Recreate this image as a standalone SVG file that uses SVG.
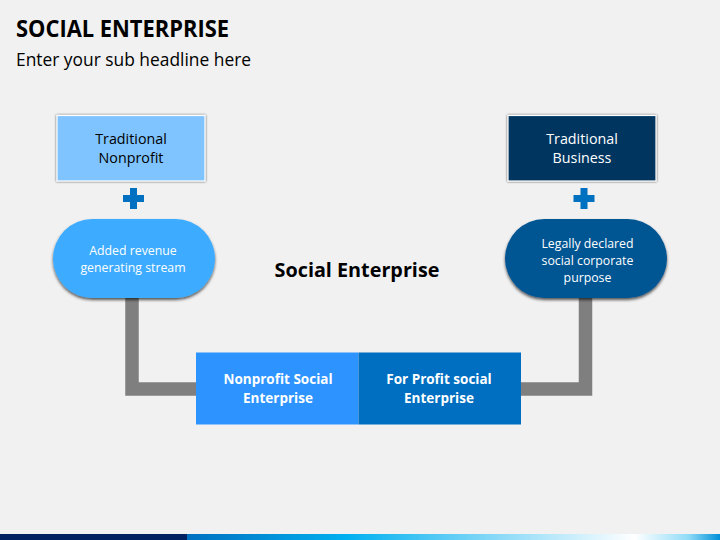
<svg xmlns="http://www.w3.org/2000/svg" width="720" height="540" viewBox="0 0 720 540">
<style>
text{font-family:"Open Sans","Noto Sans","Liberation Sans",sans-serif;text-anchor:middle}
.h{text-anchor:start}
.b{font-weight:700;fill:#fff;font-size:13.500px}
.w{fill:#fff;font-size:12.300px}
.t{font-size:14.300px}
.box{stroke:#fff;stroke-width:1.200;filter:url(#s)}
.pill{filter:url(#s2)}
</style>
<defs>
<filter id="s" x="-10%" y="-10%" width="120%" height="120%"><feDropShadow dx="0" dy="0" stdDeviation="1.300" flood-color="#000" flood-opacity=".8"/></filter>
<filter id="s2" x="-10%" y="-10%" width="120%" height="120%"><feDropShadow dx="0" dy="2" stdDeviation="1.600" flood-color="#000" flood-opacity=".65"/></filter>
<linearGradient id="g" x1="0" x2="1" y1="0" y2="0">
<stop offset="0" stop-color="#0070c0"/><stop offset=".3" stop-color="#00b0f0"/><stop offset=".6" stop-color="#92dcf8"/><stop offset=".84" stop-color="#fff"/><stop offset=".94" stop-color="#92dcf8"/><stop offset="1" stop-color="#0090d8"/>
</linearGradient>
<path id="plus" d="M-3.500-10.500h7v7h7v7h-7v7h-7v-7h-7v-7h7z" fill="#0070c0"/>
</defs>
<rect width="720" height="540" fill="#f1f1f1"/>
<text class="h" x="16" y="37" font-size="24" font-weight="700" textLength="213" lengthAdjust="spacingAndGlyphs">SOCIAL ENTERPRISE</text>
<text class="h" x="16" y="66" font-size="18" textLength="235" lengthAdjust="spacingAndGlyphs">Enter your sub headline here</text>
<g id="connectors" fill="none" stroke="#7f7f7f" stroke-width="13.500">
<path d="M132 296V389H198"/>
<path d="M585.500 296V389H519"/>
</g>
<g id="traditional-nonprofit">
<rect class="box" x="57" y="115.500" width="148" height="65.500" fill="#7fc4ff"/>
<text class="t" x="131" y="144">Traditional</text>
<text class="t" x="131" y="163">Nonprofit</text>
</g>
<g id="traditional-business">
<rect class="box" x="508" y="115.500" width="148" height="65.500" fill="#003660"/>
<text class="t" x="582" y="144" fill="#fff">Traditional</text>
<text class="t" x="582" y="163" fill="#fff">Business</text>
</g>
<g id="plus-left"><use href="#plus" x="133.500" y="198.500"/></g>
<g id="plus-right"><use href="#plus" x="584" y="198.500"/></g>
<g id="added-revenue">
<rect class="pill" x="53" y="219" width="162" height="79" rx="39.500" fill="#3dabff"/>
<text class="w" x="133" y="255">Added revenue</text>
<text class="w" x="133" y="272">generating stream</text>
</g>
<g id="legally-declared">
<rect class="pill" x="505" y="219" width="162" height="79" rx="39.500" fill="#005493"/>
<text class="w" x="587.500" y="248">Legally declared</text>
<text class="w" x="587.500" y="265">social corporate</text>
<text class="w" x="587.500" y="282">purpose</text>
</g>
<g id="center-label"><text x="357" y="277" font-size="19.800" font-weight="700">Social Enterprise</text></g>
<g id="nonprofit-social">
<rect x="196" y="352.500" width="162.500" height="72" fill="#2d94ff"/>
<text class="b" x="278" y="384">Nonprofit Social</text>
<text class="b" x="278" y="403">Enterprise</text>
</g>
<g id="for-profit-social">
<rect x="358.500" y="352.500" width="162.500" height="72" fill="#006fc1"/>
<text class="b" x="439" y="384">For Profit social</text>
<text class="b" x="439" y="403">Enterprise</text>
</g>
<rect x="0" y="534" width="187" height="6" fill="#002060"/>
<rect x="187" y="534" width="533" height="6" fill="url(#g)"/>
</svg>
